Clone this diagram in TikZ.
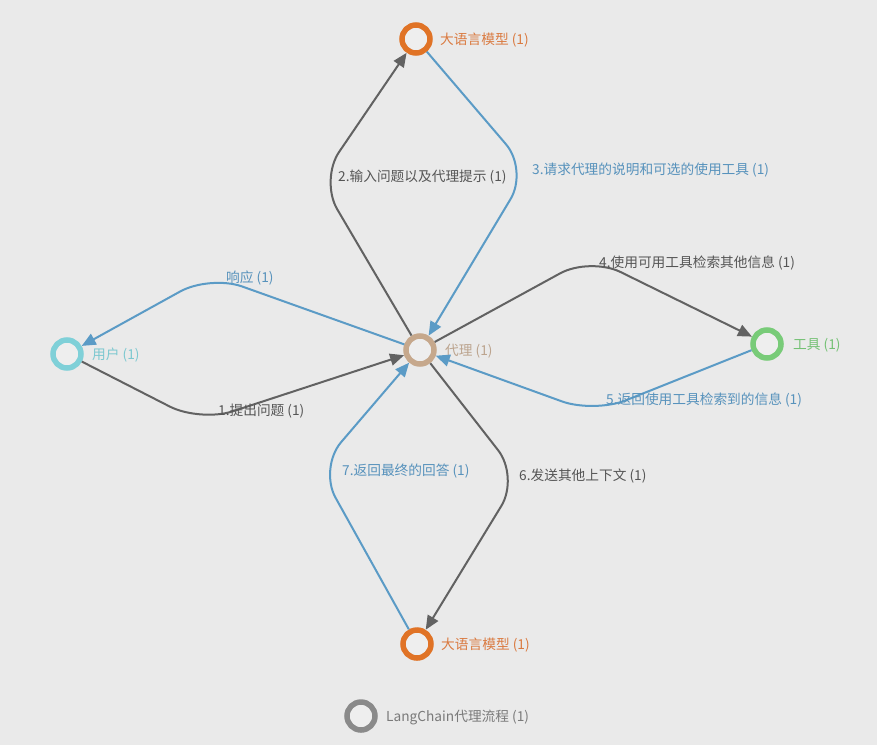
\documentclass[tikz,border=0pt]{standalone}
\usepackage{fontspec}
\setmainfont{Noto Sans CJK SC}
\usetikzlibrary{arrows.meta,calc}
\definecolor{bg}{HTML}{EAEAEA}
\definecolor{ringfill}{HTML}{EEEEEE}
\definecolor{corange}{HTML}{E07326}
\definecolor{corangel}{HTML}{DA7A40}
\definecolor{ctan}{HTML}{C6A88C}
\definecolor{ctanl}{HTML}{BCA48E}
\definecolor{ccyan}{HTML}{7FD0D8}
\definecolor{ccyanl}{HTML}{7CC8D0}
\definecolor{cgreen}{HTML}{78CB78}
\definecolor{cgreenl}{HTML}{74C174}
\definecolor{cgray}{HTML}{8A8A8A}
\definecolor{cgrayl}{HTML}{7A7A7A}
\definecolor{edark}{HTML}{626262}
\definecolor{eblue}{HTML}{5B9BC6}
\definecolor{ldark}{HTML}{555555}
\definecolor{lblue}{HTML}{5792BC}
\begin{document}
\begin{tikzpicture}[x=1pt,y=-1pt,
  ring/.style={circle, draw, line width=5.5pt, minimum size=28pt, inner sep=0pt, fill=ringfill},
  nlbl/.style={anchor=west, inner sep=0pt, font=\fontsize{13.7}{16}\selectfont},
  elbl/.style={anchor=west, inner sep=0pt, font=\fontsize{13.7}{16}\selectfont},
  darkedge/.style={draw=edark, line width=2pt, rounded corners=34pt, -{Triangle[length=14pt,width=12pt]}},
  blueedge/.style={draw=eblue, line width=2pt, rounded corners=34pt, -{Triangle[length=14pt,width=12pt]}}]
\fill[bg] (0,0) rectangle (877,745);
\useasboundingbox (0,0) rectangle (877,745);

% nodes
\node[ring, draw=corange] (llmA) at (416,39) {};
\node[ring, draw=ctan] (agent) at (420,350) {};
\node[ring, draw=ccyan] (user) at (67,354) {};
\node[ring, draw=cgreen] (tool) at (767,344) {};
\node[ring, draw=corange] (llmB) at (417,644) {};
\node[ring, draw=cgray] (legend) at (361,716) {};

\node[nlbl, text=corangel] (llmAt) at (440,40) {大语言模型 (1)};
\node[nlbl, text=ctanl] (agentt) at (445,351) {代理 (1)};
\node[nlbl, text=ccyanl] (usert) at (92,355) {用户 (1)};
\node[nlbl, text=cgreenl] (toolt) at (793,345) {工具 (1)};
\node[nlbl, text=corangel] (llmBt) at (441,645) {大语言模型 (1)};
\node[nlbl, text=cgrayl] (legendt) at (386,717) {LangChain代理流程 (1)};

% bend points
\coordinate (b2) at (320,180);
\coordinate (b3) at (528,170);
\coordinate (b4) at (590,257);
\coordinate (b5) at (594,413);
\coordinate (b6) at (519,477);
\coordinate (b7) at (319,468);
\coordinate (b1) at (200,422);
\coordinate (b8) at (210,275);

% edges
\draw[darkedge] (agent) -- (b2) -- (llmA);
\draw[blueedge] (llmA) -- (b3) -- (agent);
\draw[darkedge] (agent) -- (b4) -- (tool);
\draw[blueedge] (tool) -- (b5) -- (agent);
\draw[darkedge] (agent) -- (b6) -- (llmB);
\draw[blueedge] (llmB) -- (b7) -- (agent);
\draw[darkedge] (user) -- (b1) -- (agent);
\draw[blueedge] (agent) -- (b8) -- (user);

% edge labels
\node[elbl, text=ldark] (l2) at (338,177) {2.输入问题以及代理提示 (1)};
\node[elbl, text=lblue] (l3) at (532,170) {3.请求代理的说明和可选的使用工具 (1)};
\node[elbl, text=ldark] (l4) at (599,263) {4.使用可用工具检索其他信息 (1)};
\node[elbl, text=lblue] (l5) at (606,400) {5.返回使用工具检索到的信息 (1)};
\node[elbl, text=ldark] (l6) at (519,476) {6.发送其他上下文 (1)};
\node[elbl, text=lblue] (l7) at (342,471) {7.返回最终的回答 (1)};
\node[elbl, text=ldark] (l1) at (218,411) {1.提出问题 (1)};
\node[elbl, text=lblue] (l8) at (226,278) {响应 (1)};
\end{tikzpicture}
\end{document}
